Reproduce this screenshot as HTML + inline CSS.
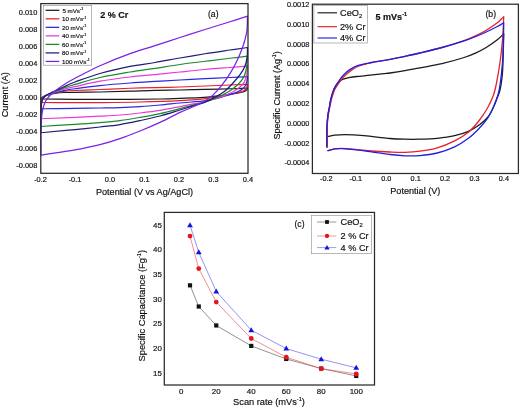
<!DOCTYPE html>
<html lang="en"><head><meta charset="utf-8"><title>CV curves and specific capacitance</title>
<style>html,body{margin:0;padding:0;background:#fff;}svg{display:block;}text{font-family:"Liberation Sans", Arial, sans-serif;fill:#111;stroke:#111;stroke-width:0.18px;}</style></head><body>
<svg width="520" height="408" viewBox="0 0 520 408">
<rect width="520" height="408" fill="#fff"/>
<g fill="none" stroke-width="1.25" stroke-linejoin="round">
<path d="M40.90 99.00C40.93 98.77 40.86 98.49 41.00 98.30C41.25 97.96 41.64 97.73 42.00 97.50C42.64 97.09 43.31 96.72 44.00 96.40C44.98 95.95 45.98 95.56 47.00 95.20C47.99 94.86 48.98 94.54 50.00 94.30C51.65 93.91 53.31 93.50 55.00 93.30C58.32 92.90 61.66 92.67 65.00 92.50C68.33 92.33 71.67 92.35 75.00 92.30C83.33 92.18 91.67 92.17 100.00 92.00C110.00 91.80 120.00 91.51 130.00 91.20C138.33 90.94 146.66 90.50 155.00 90.30C163.33 90.10 171.67 90.15 180.00 90.00C188.33 89.85 196.67 89.61 205.00 89.40C213.33 89.19 221.67 89.02 230.00 88.75C235.84 88.56 241.67 88.25 247.50 88.00C247.33 88.40 247.19 88.81 247.00 89.20C246.83 89.55 246.72 89.98 246.40 90.20C245.35 90.94 244.23 91.64 243.00 92.00C240.59 92.71 238.08 92.99 235.60 93.40C232.08 93.99 228.54 94.52 225.00 95.00C221.67 95.45 218.34 95.82 215.00 96.20C211.34 96.62 207.68 97.17 204.00 97.40C196.01 97.90 188.00 98.11 180.00 98.40C173.33 98.64 166.67 98.87 160.00 99.00C150.00 99.20 140.00 99.33 130.00 99.40C120.00 99.47 110.00 99.42 100.00 99.40C91.67 99.38 83.33 99.36 75.00 99.30C63.63 99.22 52.27 99.10 40.90 99.00" stroke="#1a1a1a"/>
<path d="M40.90 102.50C40.93 101.67 40.85 100.82 41.00 100.00C41.09 99.50 41.31 99.02 41.60 98.60C41.92 98.13 42.35 97.74 42.80 97.40C43.49 96.87 44.22 96.39 45.00 96.00C45.96 95.52 46.99 95.17 48.00 94.80C48.99 94.44 49.99 94.09 51.00 93.80C52.32 93.42 53.65 93.05 55.00 92.80C58.32 92.18 61.65 91.59 65.00 91.20C68.32 90.82 71.66 90.66 75.00 90.50C83.33 90.10 91.67 89.84 100.00 89.50C110.00 89.09 120.00 88.60 130.00 88.25C138.33 87.96 146.67 87.81 155.00 87.60C163.33 87.39 171.67 87.27 180.00 87.00C188.34 86.73 196.67 86.33 205.00 86.00C213.33 85.67 221.67 85.33 230.00 85.00C235.83 84.77 241.67 84.53 247.50 84.30C247.33 85.03 247.20 85.77 247.00 86.50C246.86 87.01 246.82 87.58 246.50 88.00C245.70 89.05 244.87 90.19 243.70 90.80C241.62 91.89 239.27 92.38 237.00 93.00C234.60 93.65 232.15 94.15 229.70 94.60C224.82 95.49 219.90 96.20 215.00 97.00C211.33 97.60 207.70 98.42 204.00 98.80C196.02 99.62 188.01 100.20 180.00 100.60C166.68 101.27 153.34 101.67 140.00 102.00C126.67 102.33 113.33 102.46 100.00 102.60C91.67 102.69 83.33 102.71 75.00 102.70C63.63 102.68 52.27 102.57 40.90 102.50" stroke="#e8202a"/>
<path d="M40.90 108.75C40.93 106.83 40.85 104.91 41.00 103.00C41.08 101.98 41.25 100.96 41.60 100.00C41.86 99.27 42.28 98.58 42.80 98.00C43.43 97.29 44.19 96.69 45.00 96.20C45.94 95.64 46.99 95.30 48.00 94.90C48.99 94.50 49.99 94.13 51.00 93.80C52.32 93.37 53.65 92.94 55.00 92.60C58.32 91.77 61.64 90.95 65.00 90.30C68.31 89.66 71.66 89.20 75.00 88.75C83.32 87.63 91.65 86.47 100.00 85.60C109.98 84.56 119.99 83.76 130.00 83.00C138.33 82.36 146.66 81.90 155.00 81.40C163.33 80.90 171.67 80.45 180.00 80.00C188.33 79.55 196.67 79.12 205.00 78.70C213.33 78.28 221.67 77.89 230.00 77.50C235.83 77.23 241.67 76.97 247.50 76.70C247.27 78.40 247.27 80.15 246.80 81.80C246.29 83.58 245.71 85.42 244.60 86.90C243.45 88.43 241.86 89.64 240.20 90.60C237.88 91.94 235.33 92.82 232.80 93.70C229.38 94.89 225.89 95.83 222.40 96.80C219.28 97.67 216.16 98.51 213.00 99.20C210.02 99.85 207.02 100.40 204.00 100.80C200.02 101.33 196.00 101.63 192.00 102.00C188.00 102.37 184.00 102.63 180.00 103.00C173.33 103.63 166.67 104.40 160.00 105.00C153.34 105.60 146.67 106.17 140.00 106.60C133.34 107.03 126.67 107.37 120.00 107.60C113.34 107.83 106.67 107.88 100.00 108.00C91.67 108.15 83.33 108.29 75.00 108.40C63.63 108.54 52.27 108.63 40.90 108.75" stroke="#2a2ae0"/>
<path d="M40.90 118.75C40.93 114.83 40.84 110.91 41.00 107.00C41.07 105.16 41.22 103.30 41.60 101.50C41.82 100.45 42.21 99.40 42.80 98.50C43.37 97.63 44.16 96.91 45.00 96.30C45.92 95.63 46.97 95.18 48.00 94.70C48.98 94.24 49.99 93.88 51.00 93.50C52.32 93.01 53.66 92.53 55.00 92.10C58.32 91.03 61.64 89.93 65.00 89.00C68.31 88.09 71.65 87.35 75.00 86.60C83.32 84.75 91.60 82.67 100.00 81.20C109.95 79.46 119.97 78.20 130.00 77.00C138.31 76.00 146.67 75.43 155.00 74.60C163.34 73.77 171.66 72.85 180.00 72.00C188.33 71.15 196.66 70.25 205.00 69.50C213.33 68.75 221.67 68.15 230.00 67.50C235.83 67.05 241.67 66.63 247.50 66.20C247.27 68.93 247.31 71.70 246.80 74.40C246.34 76.87 245.78 79.38 244.60 81.60C243.53 83.60 241.90 85.30 240.20 86.80C237.94 88.79 235.44 90.54 232.80 92.00C230.01 93.55 226.98 94.66 224.00 95.80C221.05 96.93 218.02 97.86 215.00 98.80C211.35 99.93 207.72 101.13 204.00 102.00C200.04 102.93 195.99 103.43 192.00 104.20C187.99 104.97 184.00 105.82 180.00 106.60C173.34 107.89 166.70 109.33 160.00 110.40C153.36 111.46 146.68 112.23 140.00 113.00C133.34 113.77 126.68 114.47 120.00 115.00C113.34 115.53 106.67 115.84 100.00 116.20C91.67 116.64 83.34 117.04 75.00 117.40C63.64 117.89 52.27 118.30 40.90 118.75" stroke="#e83ad8"/>
<path d="M40.90 126.50C40.93 121.00 40.84 115.50 41.00 110.00C41.07 107.49 41.20 104.98 41.60 102.50C41.81 101.22 42.18 99.94 42.80 98.80C43.33 97.83 44.14 97.01 45.00 96.30C45.90 95.56 46.96 95.04 48.00 94.50C48.97 94.00 49.99 93.62 51.00 93.20C52.33 92.65 53.67 92.13 55.00 91.60C58.33 90.27 61.62 88.82 65.00 87.60C68.29 86.41 71.64 85.37 75.00 84.40C83.31 82.00 91.57 79.40 100.00 77.50C109.92 75.26 119.97 73.68 130.00 72.00C138.31 70.61 146.67 69.55 155.00 68.30C163.34 67.05 171.65 65.68 180.00 64.50C188.32 63.33 196.66 62.29 205.00 61.25C213.33 60.21 221.67 59.24 230.00 58.25C235.83 57.56 241.67 56.88 247.50 56.20C247.30 58.80 247.17 61.41 246.90 64.00C246.67 66.18 246.52 68.38 246.00 70.50C245.42 72.86 244.78 75.27 243.60 77.40C242.25 79.83 240.46 82.03 238.50 84.00C236.30 86.22 233.78 88.13 231.20 89.90C228.40 91.81 225.42 93.45 222.40 95.00C220.01 96.23 217.49 97.20 215.00 98.20C211.36 99.66 207.75 101.23 204.00 102.40C200.07 103.63 195.99 104.37 192.00 105.40C187.99 106.44 184.01 107.57 180.00 108.60C173.34 110.31 166.71 112.12 160.00 113.60C153.37 115.06 146.68 116.23 140.00 117.40C133.35 118.56 126.70 119.73 120.00 120.60C113.36 121.46 106.68 122.05 100.00 122.60C91.68 123.28 83.33 123.75 75.00 124.30C63.63 125.05 52.27 125.77 40.90 126.50" stroke="#1d8a2e"/>
<path d="M40.90 132.75C40.93 125.83 40.84 118.91 41.00 112.00C41.07 108.99 41.19 105.98 41.60 103.00C41.79 101.62 42.18 100.25 42.80 99.00C43.33 97.94 44.13 97.01 45.00 96.20C45.88 95.38 46.95 94.79 48.00 94.20C48.96 93.66 50.00 93.26 51.00 92.80C52.25 92.23 53.51 91.69 54.75 91.10C58.18 89.49 61.55 87.75 65.00 86.20C68.30 84.72 71.60 83.23 75.00 82.00C83.27 79.00 91.53 75.90 100.00 73.50C109.89 70.70 119.92 68.42 130.00 66.40C138.27 64.75 146.68 63.90 155.00 62.50C163.35 61.10 171.66 59.46 180.00 58.00C188.33 56.54 196.65 55.09 205.00 53.75C213.32 52.42 221.66 51.23 230.00 50.00C235.83 49.14 241.67 48.33 247.50 47.50C247.33 51.07 247.53 54.67 247.00 58.20C246.55 61.21 245.78 64.20 244.60 67.00C243.49 69.65 241.89 72.08 240.20 74.40C237.94 77.50 235.41 80.39 232.80 83.20C230.01 86.20 227.22 89.26 224.00 91.80C221.25 93.96 218.08 95.54 215.00 97.20C211.41 99.14 207.80 101.11 204.00 102.60C200.11 104.12 195.99 104.97 192.00 106.20C187.99 107.44 184.01 108.77 180.00 110.00C173.34 112.04 166.73 114.22 160.00 116.00C153.39 117.75 146.69 119.16 140.00 120.60C133.35 122.03 126.71 123.53 120.00 124.60C113.37 125.66 106.67 126.26 100.00 127.00C91.67 127.93 83.34 128.79 75.00 129.60C63.64 130.71 52.27 131.70 40.90 132.75" stroke="#1c1c78"/>
<path d="M40.90 155.20C40.93 145.13 40.73 135.06 41.00 125.00C41.10 121.32 41.51 117.65 42.00 114.00C42.34 111.47 42.78 108.94 43.50 106.50C44.12 104.42 44.90 102.37 46.00 100.50C47.09 98.66 48.53 97.05 50.00 95.50C51.54 93.87 53.22 92.36 55.00 91.00C58.23 88.52 61.57 86.18 65.00 84.00C68.24 81.94 71.60 80.08 75.00 78.30C83.27 73.98 91.49 69.52 100.00 65.70C109.84 61.28 119.87 57.30 130.00 53.60C138.22 50.60 146.67 48.28 155.00 45.60C163.34 42.92 171.66 40.18 180.00 37.50C188.33 34.82 196.65 32.13 205.00 29.50C213.32 26.88 221.67 24.36 230.00 21.75C235.84 19.92 241.67 18.05 247.50 16.20C247.33 20.80 247.50 25.42 247.00 30.00C246.63 33.39 245.79 36.71 244.90 40.00C243.95 43.49 242.80 46.93 241.50 50.30C239.93 54.37 238.25 58.40 236.30 62.30C234.24 66.41 231.98 70.43 229.50 74.30C226.84 78.44 223.99 82.47 220.90 86.30C218.25 89.58 215.44 92.78 212.30 95.60C209.78 97.87 206.95 99.82 204.00 101.50C200.16 103.70 196.03 105.37 192.00 107.20C188.03 109.00 183.94 110.53 180.00 112.40C173.27 115.60 166.76 119.26 160.00 122.40C153.42 125.46 146.73 128.28 140.00 131.00C133.39 133.68 126.75 136.30 120.00 138.60C113.41 140.84 106.75 142.92 100.00 144.60C91.74 146.66 83.38 148.30 75.00 149.80C63.67 151.83 52.27 153.40 40.90 155.20" stroke="#7a22e6"/>
</g>
<rect x="40.80" y="3.60" width="207.20" height="169.70" fill="none" stroke="#2a2a2a" stroke-width="1.25"/>
<text x="37.30" y="14.95" font-size="7.40" text-anchor="end" font-weight="normal">0.010</text>
<text x="37.30" y="32.01" font-size="7.40" text-anchor="end" font-weight="normal">0.008</text>
<text x="37.30" y="49.07" font-size="7.40" text-anchor="end" font-weight="normal">0.006</text>
<text x="37.30" y="66.13" font-size="7.40" text-anchor="end" font-weight="normal">0.004</text>
<text x="37.30" y="83.19" font-size="7.40" text-anchor="end" font-weight="normal">0.002</text>
<text x="37.30" y="100.25" font-size="7.40" text-anchor="end" font-weight="normal">0.000</text>
<text x="37.30" y="117.31" font-size="7.40" text-anchor="end" font-weight="normal">-0.002</text>
<text x="37.30" y="134.37" font-size="7.40" text-anchor="end" font-weight="normal">-0.004</text>
<text x="37.30" y="151.43" font-size="7.40" text-anchor="end" font-weight="normal">-0.006</text>
<text x="37.30" y="168.49" font-size="7.40" text-anchor="end" font-weight="normal">-0.008</text>
<text x="40.50" y="181.90" font-size="7.40" text-anchor="middle" font-weight="normal">-0.2</text>
<text x="75.00" y="181.90" font-size="7.40" text-anchor="middle" font-weight="normal">-0.1</text>
<text x="110.00" y="181.90" font-size="7.40" text-anchor="middle" font-weight="normal">0.0</text>
<text x="144.50" y="181.90" font-size="7.40" text-anchor="middle" font-weight="normal">0.1</text>
<text x="179.00" y="181.90" font-size="7.40" text-anchor="middle" font-weight="normal">0.2</text>
<text x="213.50" y="181.90" font-size="7.40" text-anchor="middle" font-weight="normal">0.3</text>
<text x="248.00" y="181.90" font-size="7.40" text-anchor="middle" font-weight="normal">0.4</text>
<text x="7.90" y="94.70" font-size="9.15" text-anchor="middle" font-weight="normal" transform="rotate(-90 7.90 94.70)">Current (A)</text>
<text x="144.50" y="194.90" font-size="9.10" text-anchor="middle" font-weight="normal">Potential (V vs Ag/AgCl)</text>
<text x="100.20" y="17.70" font-size="9.00" text-anchor="start" font-weight="bold">2 % Cr</text>
<text x="208.00" y="17.00" font-size="8.60" text-anchor="start" font-weight="normal">(a)</text>
<rect x="43.4" y="5.4" width="48.3" height="59.8" fill="#fff" stroke="#8a8a8a" stroke-width="0.6"/>
<line x1="45.6" y1="10.30" x2="59.3" y2="10.30" stroke="#1a1a1a" stroke-width="1.25"/>
<text x="62.40" y="12.50" font-size="6.20" text-anchor="start" font-weight="normal" stroke="none" fill="#1a1a1a">5 mVs<tspan dy="-0.62em" font-size="60%">-1</tspan></text>
<line x1="45.6" y1="18.82" x2="59.3" y2="18.82" stroke="#e8202a" stroke-width="1.25"/>
<text x="62.00" y="21.02" font-size="6.20" text-anchor="start" font-weight="normal" stroke="none" fill="#1a1a1a">10 mVs<tspan dy="-0.62em" font-size="60%">-1</tspan></text>
<line x1="45.6" y1="27.34" x2="59.3" y2="27.34" stroke="#2a2ae0" stroke-width="1.25"/>
<text x="62.00" y="29.54" font-size="6.20" text-anchor="start" font-weight="normal" stroke="none" fill="#1a1a1a">20 mVs<tspan dy="-0.62em" font-size="60%">-1</tspan></text>
<line x1="45.6" y1="35.86" x2="59.3" y2="35.86" stroke="#e83ad8" stroke-width="1.25"/>
<text x="62.00" y="38.06" font-size="6.20" text-anchor="start" font-weight="normal" stroke="none" fill="#1a1a1a">40 mVs<tspan dy="-0.62em" font-size="60%">-1</tspan></text>
<line x1="45.6" y1="44.38" x2="59.3" y2="44.38" stroke="#1d8a2e" stroke-width="1.25"/>
<text x="62.00" y="46.58" font-size="6.20" text-anchor="start" font-weight="normal" stroke="none" fill="#1a1a1a">60 mVs<tspan dy="-0.62em" font-size="60%">-1</tspan></text>
<line x1="45.6" y1="52.90" x2="59.3" y2="52.90" stroke="#1c1c78" stroke-width="1.25"/>
<text x="62.00" y="55.10" font-size="6.20" text-anchor="start" font-weight="normal" stroke="none" fill="#1a1a1a">80 mVs<tspan dy="-0.62em" font-size="60%">-1</tspan></text>
<line x1="45.6" y1="61.42" x2="59.3" y2="61.42" stroke="#7a22e6" stroke-width="1.25"/>
<text x="62.00" y="63.62" font-size="6.20" text-anchor="start" font-weight="normal" stroke="none" fill="#1a1a1a">100 mVs<tspan dy="-0.62em" font-size="60%">-1</tspan></text>
<g fill="none" stroke-width="1.3" stroke-linejoin="round">
<path d="M327.00 147.50C327.00 144.00 326.97 140.50 327.00 137.00C327.04 133.00 327.02 129.00 327.20 125.00C327.35 121.56 327.57 118.12 328.00 114.70C328.37 111.77 329.06 108.90 329.60 106.00C330.06 103.50 330.36 100.96 331.00 98.50C331.83 95.29 332.73 92.07 334.00 89.00C334.74 87.20 335.86 85.57 337.00 84.00C337.70 83.03 338.59 82.18 339.50 81.40C340.26 80.74 341.10 80.16 342.00 79.70C342.95 79.22 343.98 78.89 345.00 78.60C346.65 78.13 348.31 77.70 350.00 77.40C352.25 77.00 354.53 76.75 356.80 76.50C361.19 76.02 365.60 75.66 370.00 75.20C374.90 74.69 379.80 74.14 384.70 73.60C386.47 73.41 388.24 73.26 390.00 73.00C395.01 72.26 400.01 71.46 405.00 70.60C410.01 69.73 415.00 68.75 420.00 67.80C427.34 66.41 434.73 65.30 442.00 63.60C449.44 61.86 456.82 59.81 464.10 57.50C468.16 56.21 472.11 54.56 476.00 52.80C479.49 51.22 482.93 49.50 486.20 47.50C490.04 45.15 493.75 42.57 497.30 39.80C499.61 37.99 501.60 35.80 503.75 33.80C503.57 40.87 503.45 47.94 503.20 55.00C502.97 61.67 502.91 68.35 502.30 75.00C501.84 80.04 501.11 85.07 500.00 90.00C499.34 92.93 498.09 95.70 497.00 98.50C495.65 101.97 494.36 105.47 492.70 108.80C491.19 111.82 489.68 114.92 487.50 117.50C484.99 120.48 481.96 123.02 478.80 125.30C475.56 127.64 472.08 129.72 468.40 131.30C463.96 133.21 459.31 134.64 454.60 135.70C448.91 136.98 443.10 137.71 437.30 138.30C431.55 138.88 425.77 139.04 420.00 139.20C415.00 139.34 410.00 139.32 405.00 139.20C400.00 139.08 394.99 138.93 390.00 138.50C381.31 137.76 372.68 136.45 364.00 135.70C357.68 135.15 351.34 134.71 345.00 134.60C341.66 134.54 338.32 134.84 335.00 135.20C332.44 135.48 329.93 136.07 327.40 136.50" stroke="#1a1a1a"/>
<path d="M327.20 147.50C327.23 140.00 327.03 132.50 327.30 125.00C327.43 121.55 327.91 118.12 328.40 114.70C328.81 111.78 329.41 108.89 330.00 106.00C330.51 103.49 330.98 100.96 331.70 98.50C332.62 95.35 333.47 92.15 334.90 89.20C336.32 86.27 338.27 83.62 340.20 81.00C341.58 79.14 343.15 77.42 344.80 75.80C346.69 73.95 348.61 72.09 350.80 70.60C353.44 68.80 356.22 67.15 359.20 66.00C363.17 64.47 367.35 63.51 371.50 62.60C375.86 61.64 380.30 61.16 384.70 60.40C386.47 60.09 388.24 59.76 390.00 59.40C395.00 58.39 400.01 57.37 405.00 56.30C410.01 55.23 415.02 54.18 420.00 53.00C427.35 51.25 434.72 49.55 442.00 47.50C449.43 45.41 456.81 43.13 464.10 40.60C468.15 39.19 472.11 37.51 476.00 35.70C479.49 34.07 482.91 32.29 486.20 30.30C490.02 27.99 493.78 25.55 497.30 22.80C499.65 20.96 501.60 18.67 503.75 16.60C503.33 24.40 503.14 32.21 502.50 40.00C501.89 47.52 501.04 55.03 500.00 62.50C499.04 69.37 497.86 76.20 496.50 83.00C495.69 87.04 494.90 91.12 493.50 95.00C491.88 99.49 489.85 103.85 487.50 108.00C484.93 112.54 482.03 116.91 478.80 121.00C475.64 125.00 472.34 128.97 468.40 132.20C464.21 135.63 459.44 138.37 454.60 140.80C449.04 143.59 443.26 146.01 437.30 147.80C431.67 149.49 425.82 150.39 420.00 151.20C415.03 151.89 410.01 152.17 405.00 152.30C400.00 152.43 395.00 152.19 390.00 152.00C383.83 151.76 377.66 151.45 371.50 151.00C366.59 150.65 361.70 150.03 356.80 149.60C351.87 149.17 346.95 148.56 342.00 148.40C339.56 148.32 337.11 148.52 334.70 148.90C332.22 149.29 329.83 150.10 327.40 150.70" stroke="#e8202a"/>
<path d="M326.80 147.50C326.83 140.00 326.63 132.50 326.90 125.00C327.03 121.55 327.51 118.12 328.00 114.70C328.41 111.78 329.06 108.90 329.60 106.00C330.06 103.50 330.36 100.96 331.00 98.50C331.83 95.29 332.63 92.03 334.00 89.00C335.35 86.02 337.26 83.31 339.10 80.60C340.43 78.64 341.85 76.71 343.50 75.00C345.30 73.13 347.22 71.32 349.40 69.90C352.16 68.10 355.08 66.45 358.20 65.40C362.50 63.96 367.04 63.36 371.50 62.50C375.88 61.66 380.30 61.06 384.70 60.30C386.47 59.99 388.24 59.65 390.00 59.30C395.00 58.31 400.01 57.35 405.00 56.30C410.01 55.25 415.02 54.18 420.00 53.00C427.35 51.25 434.71 49.50 442.00 47.50C449.41 45.47 456.79 43.27 464.10 40.90C468.12 39.60 472.08 38.08 476.00 36.50C479.45 35.11 482.84 33.58 486.20 32.00C489.94 30.25 493.64 28.42 497.30 26.50C499.50 25.35 501.60 24.03 503.75 22.80C503.60 30.20 503.53 37.60 503.30 45.00C503.12 50.84 502.96 56.68 502.50 62.50C501.96 69.35 501.26 76.20 500.30 83.00C499.73 87.04 499.05 91.09 497.90 95.00C496.51 99.72 494.70 104.31 492.70 108.80C491.22 112.13 489.58 115.42 487.50 118.40C484.93 122.08 481.91 125.46 478.80 128.70C475.53 132.10 472.17 135.46 468.40 138.30C464.07 141.56 459.50 144.58 454.60 146.90C449.07 149.51 443.23 151.51 437.30 153.00C431.64 154.42 425.81 155.10 420.00 155.60C415.02 156.03 410.00 155.98 405.00 155.80C399.98 155.62 394.98 155.10 390.00 154.50C383.81 153.76 377.67 152.67 371.50 151.80C366.60 151.11 361.72 150.33 356.80 149.80C351.88 149.27 346.95 148.80 342.00 148.60C339.57 148.50 337.11 148.55 334.70 148.90C332.22 149.26 329.83 150.10 327.40 150.70" stroke="#2020e0"/>
</g>
<rect x="312.40" y="4.20" width="206.00" height="169.30" fill="none" stroke="#2a2a2a" stroke-width="1.25"/>
<text x="309.30" y="7.05" font-size="7.30" text-anchor="end" font-weight="normal">0.0012</text>
<text x="309.30" y="26.85" font-size="7.30" text-anchor="end" font-weight="normal">0.0010</text>
<text x="309.30" y="46.65" font-size="7.30" text-anchor="end" font-weight="normal">0.0008</text>
<text x="309.30" y="66.45" font-size="7.30" text-anchor="end" font-weight="normal">0.0006</text>
<text x="309.30" y="86.25" font-size="7.30" text-anchor="end" font-weight="normal">0.0004</text>
<text x="309.30" y="106.05" font-size="7.30" text-anchor="end" font-weight="normal">0.0002</text>
<text x="309.30" y="125.85" font-size="7.30" text-anchor="end" font-weight="normal">0.0000</text>
<text x="309.30" y="145.65" font-size="7.30" text-anchor="end" font-weight="normal">-0.0002</text>
<text x="309.30" y="165.45" font-size="7.30" text-anchor="end" font-weight="normal">-0.0004</text>
<text x="326.40" y="181.00" font-size="7.30" text-anchor="middle" font-weight="normal">-0.2</text>
<text x="355.80" y="181.00" font-size="7.30" text-anchor="middle" font-weight="normal">-0.1</text>
<text x="386.30" y="181.00" font-size="7.30" text-anchor="middle" font-weight="normal">0.0</text>
<text x="415.70" y="181.00" font-size="7.30" text-anchor="middle" font-weight="normal">0.1</text>
<text x="445.10" y="181.00" font-size="7.30" text-anchor="middle" font-weight="normal">0.2</text>
<text x="474.50" y="181.00" font-size="7.30" text-anchor="middle" font-weight="normal">0.3</text>
<text x="503.90" y="181.00" font-size="7.30" text-anchor="middle" font-weight="normal">0.4</text>
<text x="279.60" y="95.30" font-size="9.00" text-anchor="middle" font-weight="normal" transform="rotate(-90 279.60 95.30)">Specific Current (Ag<tspan dy="-0.62em" font-size="60%">-1</tspan><tspan dy="0.37em">)</tspan></text>
<text x="415.30" y="194.00" font-size="9.10" text-anchor="middle" font-weight="normal">Potential (V)</text>
<text x="375.60" y="20.20" font-size="9.00" text-anchor="start" font-weight="bold">5 mVs<tspan dy="-0.80em" font-size="60%">-1</tspan></text>
<text x="485.50" y="16.80" font-size="8.60" text-anchor="start" font-weight="normal">(b)</text>
<rect x="313.9" y="5.6" width="53.6" height="37.4" fill="#fff" stroke="#8a8a8a" stroke-width="0.6"/>
<line x1="317.5" y1="12.80" x2="337" y2="12.80" stroke="#1a1a1a" stroke-width="1.15"/>
<text x="340.00" y="16.00" font-size="9.20" text-anchor="start" font-weight="normal">CeO<tspan dy="0.28em" font-size="62%">2</tspan></text>
<line x1="317.5" y1="26.70" x2="337" y2="26.70" stroke="#e8202a" stroke-width="1.15"/>
<text x="340.00" y="29.90" font-size="9.20" text-anchor="start" font-weight="normal">2% Cr</text>
<line x1="317.5" y1="38.00" x2="337" y2="38.00" stroke="#2020e0" stroke-width="1.15"/>
<text x="340.00" y="41.20" font-size="9.20" text-anchor="start" font-weight="normal">4% Cr</text>
<polyline points="190.00,285.34 198.75,306.51 216.25,325.47 251.25,345.91 286.25,358.96 321.25,368.57 356.25,375.95" fill="none" stroke="#555" stroke-width="0.65"/>
<polyline points="190.00,236.09 198.75,268.59 216.25,302.08 251.25,338.52 286.25,357.24 321.25,368.57 356.25,373.99" fill="none" stroke="#f05050" stroke-width="0.65"/>
<polyline points="190.00,225.25 198.75,252.34 216.25,291.49 251.25,330.15 286.25,348.62 321.25,359.21 356.25,367.83" fill="none" stroke="#5a5af0" stroke-width="0.65"/>
<rect x="187.90" y="283.24" width="4.20" height="4.20" fill="#111"/>
<rect x="196.65" y="304.41" width="4.20" height="4.20" fill="#111"/>
<rect x="214.15" y="323.37" width="4.20" height="4.20" fill="#111"/>
<rect x="249.15" y="343.81" width="4.20" height="4.20" fill="#111"/>
<rect x="284.15" y="356.86" width="4.20" height="4.20" fill="#111"/>
<rect x="319.15" y="366.47" width="4.20" height="4.20" fill="#111"/>
<rect x="354.15" y="373.85" width="4.20" height="4.20" fill="#111"/>
<circle cx="190.00" cy="236.09" r="2.40" fill="#e6141e"/>
<circle cx="198.75" cy="268.59" r="2.40" fill="#e6141e"/>
<circle cx="216.25" cy="302.08" r="2.40" fill="#e6141e"/>
<circle cx="251.25" cy="338.52" r="2.40" fill="#e6141e"/>
<circle cx="286.25" cy="357.24" r="2.40" fill="#e6141e"/>
<circle cx="321.25" cy="368.57" r="2.40" fill="#e6141e"/>
<circle cx="356.25" cy="373.99" r="2.40" fill="#e6141e"/>
<path d="M190.00 222.25 L192.90 227.25 L187.10 227.25 Z" fill="#1414d8"/>
<path d="M198.75 249.34 L201.65 254.34 L195.85 254.34 Z" fill="#1414d8"/>
<path d="M216.25 288.49 L219.15 293.49 L213.35 293.49 Z" fill="#1414d8"/>
<path d="M251.25 327.15 L254.15 332.15 L248.35 332.15 Z" fill="#1414d8"/>
<path d="M286.25 345.62 L289.15 350.62 L283.35 350.62 Z" fill="#1414d8"/>
<path d="M321.25 356.21 L324.15 361.21 L318.35 361.21 Z" fill="#1414d8"/>
<path d="M356.25 364.83 L359.15 369.83 L353.35 369.83 Z" fill="#1414d8"/>
<rect x="164.30" y="212.40" width="210.20" height="172.60" fill="none" stroke="#2a2a2a" stroke-width="1.25"/>
<text x="161.80" y="227.85" font-size="7.90" text-anchor="end" font-weight="normal">45</text>
<text x="161.80" y="252.47" font-size="7.90" text-anchor="end" font-weight="normal">40</text>
<text x="161.80" y="277.10" font-size="7.90" text-anchor="end" font-weight="normal">35</text>
<text x="161.80" y="301.73" font-size="7.90" text-anchor="end" font-weight="normal">30</text>
<text x="161.80" y="326.35" font-size="7.90" text-anchor="end" font-weight="normal">25</text>
<text x="161.80" y="350.98" font-size="7.90" text-anchor="end" font-weight="normal">20</text>
<text x="161.80" y="375.60" font-size="7.90" text-anchor="end" font-weight="normal">15</text>
<text x="181.25" y="394.10" font-size="7.90" text-anchor="middle" font-weight="normal">0</text>
<text x="216.25" y="394.10" font-size="7.90" text-anchor="middle" font-weight="normal">20</text>
<text x="251.25" y="394.10" font-size="7.90" text-anchor="middle" font-weight="normal">40</text>
<text x="286.25" y="394.10" font-size="7.90" text-anchor="middle" font-weight="normal">60</text>
<text x="321.25" y="394.10" font-size="7.90" text-anchor="middle" font-weight="normal">80</text>
<text x="356.25" y="394.10" font-size="7.90" text-anchor="middle" font-weight="normal">100</text>
<text x="144.90" y="305.70" font-size="9.30" text-anchor="middle" font-weight="normal" transform="rotate(-90 144.90 305.70)">Specific Capacitance (Fg<tspan dy="-0.62em" font-size="60%">-1</tspan><tspan dy="0.37em">)</tspan></text>
<text x="269.00" y="404.80" font-size="9.25" text-anchor="middle" font-weight="normal">Scan rate (mVs<tspan dy="-0.62em" font-size="60%">-1</tspan><tspan dy="0.37em">)</tspan></text>
<text x="294.50" y="226.60" font-size="8.60" text-anchor="start" font-weight="normal">(c)</text>
<rect x="311.3" y="215.3" width="60" height="38.4" fill="#fff" stroke="#8a8a8a" stroke-width="0.6"/>
<line x1="317" y1="222.00" x2="336.3" y2="222.00" stroke="#555" stroke-width="0.6"/>
<rect x="325.11" y="220.11" width="3.78" height="3.78" fill="#111"/>
<text x="340.50" y="225.20" font-size="9.20" text-anchor="start" font-weight="normal">CeO<tspan dy="0.28em" font-size="62%">2</tspan></text>
<line x1="317" y1="236.00" x2="336.3" y2="236.00" stroke="#f05050" stroke-width="0.6"/>
<circle cx="327.00" cy="236.00" r="2.16" fill="#e6141e"/>
<text x="340.50" y="239.20" font-size="9.20" text-anchor="start" font-weight="normal">2 % Cr</text>
<line x1="317" y1="247.60" x2="336.3" y2="247.60" stroke="#5a5af0" stroke-width="0.6"/>
<path d="M327.00 244.90 L329.61 249.40 L324.39 249.40 Z" fill="#1414d8"/>
<text x="340.50" y="250.80" font-size="9.20" text-anchor="start" font-weight="normal">4 % Cr</text>
</svg></body></html>
